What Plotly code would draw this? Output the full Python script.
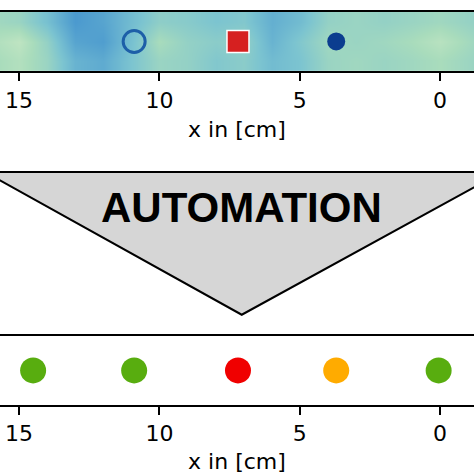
import plotly.graph_objects as go

# surface scan strip (coarse hand-read values, 0 = dark blue, 1 = pale green)
scan_x = [15.7, 15, 14, 13, 12, 11, 10, 9, 8, 7, 6, 5, 4, 3, 2, 1, 0, -1.2]
scan_y = [0, 1, 2]
scan_z = [
    [0.85, 0.88, 0.80, 0.62, 0.58, 0.70, 0.80, 0.78, 0.72, 0.75, 0.66, 0.70, 0.80, 0.82, 0.80, 0.82, 0.85, 0.80],
    [0.88, 0.92, 0.78, 0.55, 0.52, 0.68, 0.85, 0.78, 0.75, 0.78, 0.62, 0.72, 0.82, 0.80, 0.82, 0.85, 0.90, 0.82],
    [0.82, 0.80, 0.68, 0.50, 0.55, 0.66, 0.76, 0.74, 0.70, 0.72, 0.60, 0.66, 0.78, 0.80, 0.78, 0.80, 0.82, 0.78],
]

# detected defects
defect_x = [14.5, 10.9, 7.2, 3.7, 0.05]
defect_colors = ["#58ad0f", "#58ad0f", "#f00000", "#ffab00", "#58ad0f"]

tick_vals = [15, 10, 5, 0]
x_range = [15.68, -1.21]

colorscale = [[0, "#0b3d8f"], [0.45, "#3f8fcf"], [0.7, "#7cc4d0"],
              [0.85, "#a9dcbc"], [1, "#d8eec8"]]

fig = go.Figure()
fig.add_trace(go.Heatmap(x=scan_x, y=scan_y, z=scan_z, zsmooth="best",
                         colorscale=colorscale, zmin=0, zmax=1, showscale=False,
                         xaxis="x", yaxis="y"))
# holes in the scan
fig.add_trace(go.Scatter(x=[10.9], y=[1], mode="markers", xaxis="x", yaxis="y",
                         marker=dict(size=22, color="rgba(0,0,0,0)",
                                     line=dict(color="#1d5fa8", width=3))))
fig.add_trace(go.Scatter(x=[3.7], y=[1], mode="markers", xaxis="x", yaxis="y",
                         marker=dict(size=18, color="#0b3d8f")))
fig.add_trace(go.Scatter(x=[7.2], y=[1], mode="markers", xaxis="x", yaxis="y",
                         marker=dict(size=22, symbol="square", color="#d62020",
                                     line=dict(color="white", width=1.5))))

fig.add_trace(go.Scatter(x=defect_x, y=[0] * len(defect_x), mode="markers",
                         xaxis="x2", yaxis="y2",
                         marker=dict(size=26, color=defect_colors)))

axis_style = dict(range=x_range, tickvals=tick_vals, ticks="outside", ticklen=8,
                  tickwidth=1.5, tickcolor="black", showline=True, linecolor="black",
                  linewidth=2, mirror=True, showgrid=False, zeroline=False,
                  automargin=False,
                  tickfont=dict(size=22, color="black"),
                  title=dict(text="x in [cm]", font=dict(size=22, color="black"), standoff=10))

fig.update_layout(
    width=474, height=474, margin=dict(l=0, r=0, t=0, b=0),
    paper_bgcolor="white", plot_bgcolor="white", showlegend=False,
    font=dict(family="DejaVu Sans"),
    xaxis=dict(axis_style, anchor="y"),
    yaxis=dict(domain=[0.850, 0.975], range=[-0.5, 2.5], visible=False),
    xaxis2=dict(axis_style, anchor="y2"),
    yaxis2=dict(domain=[0.146, 0.291], range=[-1, 1], visible=False),
    shapes=[dict(type="path", xref="paper", yref="paper",
                 path="M -0.01,0.625 L 0.51,0.336 L 1.01,0.61 L 1.01,0.637 L -0.01,0.637 Z",
                 fillcolor="#d6d6d6", line=dict(color="black", width=2))],
    annotations=[dict(text="<b>AUTOMATION</b>", xref="paper", yref="paper",
                      x=0.51, y=0.562, showarrow=False,
                      font=dict(size=42, color="black", family="Liberation Sans"))],
)

fig.write_html("out.html", config={"displayModeBar": False},
               post_script="document.body.style.margin='0';")
